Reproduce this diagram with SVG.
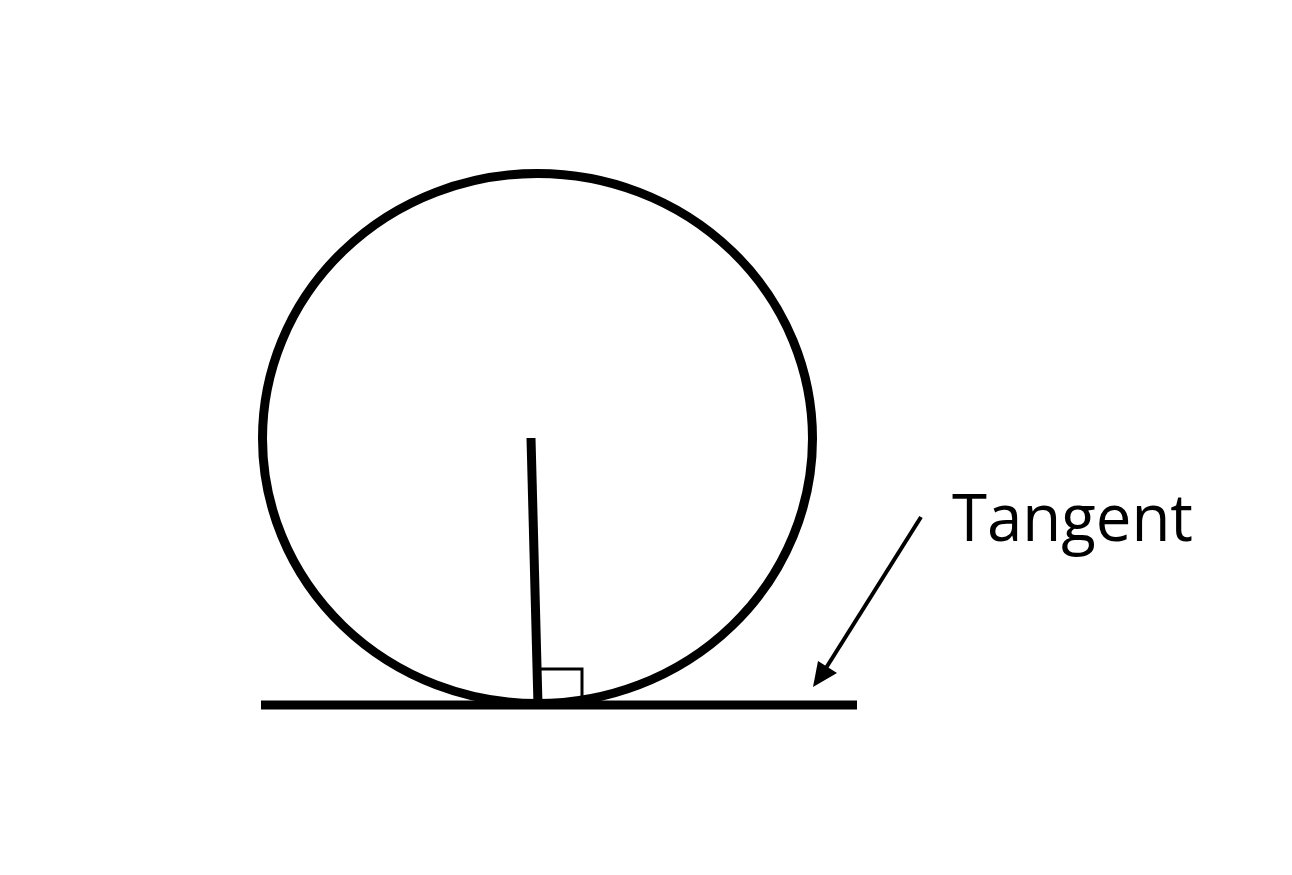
<svg xmlns="http://www.w3.org/2000/svg" width="1292" height="875" viewBox="0 0 1292 875">
<style>
.thick{fill:none;stroke:#000;stroke-width:9}
.thin{fill:none;stroke:#000;stroke-width:3}
.lbl{font-family:"Open Sans","Liberation Sans",sans-serif;font-size:66px;fill:#000}
</style>
<rect width="1292" height="875" fill="#fff"/>
<g id="circle"><ellipse class="thick" cx="537.5" cy="438.5" rx="275" ry="265"/></g>
<g id="tangent-line"><line class="thick" x1="261" y1="705" x2="857" y2="705"/></g>
<g id="radius"><line class="thick" x1="531" y1="438" x2="538" y2="705"/></g>
<g id="right-angle"><polyline class="thin" points="540,669 582,669 582,697"/></g>
<g id="label"><text class="lbl" x="952" y="541" textLength="241" lengthAdjust="spacingAndGlyphs">Tangent</text></g>
<g id="connectors">
<line x1="921" y1="517" x2="826" y2="668" stroke="#000" stroke-width="4"/>
<polygon points="813,687 818,661 837,673" fill="#000"/>
</g>
</svg>
